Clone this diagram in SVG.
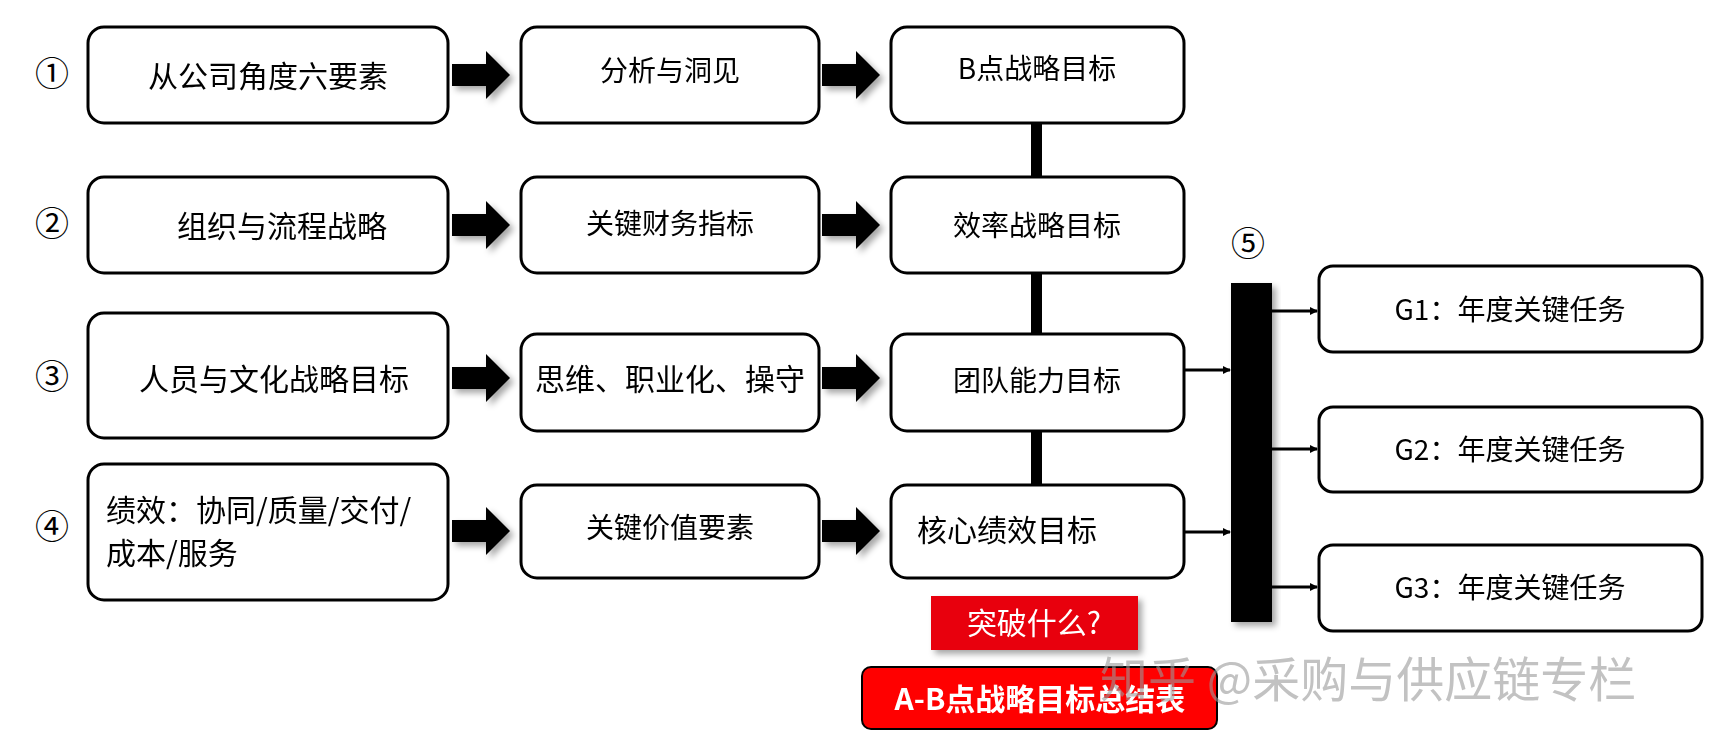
<svg xmlns="http://www.w3.org/2000/svg" width="1716" height="745" viewBox="0 0 1716 745">
<defs>
<filter id="sh" x="-10%" y="-10%" width="130%" height="140%"><feDropShadow dx="4" dy="4" stdDeviation="3" flood-color="#000" flood-opacity="0.35"/></filter>
<marker id="ah" markerWidth="8" markerHeight="8" refX="7" refY="4" orient="auto" markerUnits="userSpaceOnUse" viewBox="0 0 8 8"><path d="M0,0 L8,4 L0,8 z" fill="#000"/></marker>
<path id="big" d="M0,-11 L34,-11 L34,-24 L58,0 L34,24 L34,11 L0,11 z" fill="#000"/>
</defs>
<style>
.b{fill:#fff;stroke:#000;stroke-width:3}
.t{font-family:"Noto Sans CJK SC","Liberation Sans",sans-serif;font-size:30px;fill:#000}
.s{font-size:28px}
.n{font-family:"Noto Sans CJK SC",sans-serif;font-size:34px;fill:#000}
</style>
<rect width="1716" height="745" fill="#fff"/>
<g id="nums">
<text class="n" x="52" y="86" text-anchor="middle">①</text>
<text class="n" x="52" y="236" text-anchor="middle">②</text>
<text class="n" x="52" y="389" text-anchor="middle">③</text>
<text class="n" x="52" y="539" text-anchor="middle">④</text>
<text class="n" x="1248" y="256" text-anchor="middle">⑤</text>
</g>
<g id="connectors">
<g filter="url(#sh)">
<use href="#big" x="452" y="75"/><use href="#big" x="822" y="75"/>
<use href="#big" x="452" y="225"/><use href="#big" x="822" y="225"/>
<use href="#big" x="452" y="378"/><use href="#big" x="822" y="378"/>
<use href="#big" x="452" y="531"/><use href="#big" x="822" y="531"/>
</g>
<rect x="1031" y="123" width="11" height="362" fill="#000"/>
<g stroke="#000" stroke-width="3" marker-end="url(#ah)">
<line x1="1184" y1="370" x2="1230" y2="370"/>
<line x1="1184" y1="532" x2="1230" y2="532"/>
<line x1="1272" y1="311" x2="1317" y2="311"/>
<line x1="1272" y1="449" x2="1317" y2="449"/>
<line x1="1272" y1="587" x2="1317" y2="587"/>
</g>
</g>
<g id="bar"><rect x="1231" y="283" width="41" height="339" fill="#000" filter="url(#sh)"/></g>
<g id="r1c1"><rect class="b" x="88" y="27" width="360" height="96" rx="16"/><text class="t" x="268" y="87" text-anchor="middle">从公司角度六要素</text></g>
<g id="r1c2"><rect class="b" x="521" y="27" width="298" height="96" rx="16"/><text class="t s" x="670" y="81" text-anchor="middle">分析与洞见</text></g>
<g id="r1c3"><rect class="b" x="891" y="27" width="293" height="96" rx="16"/><text class="t s" x="1037" y="79" text-anchor="middle">B点战略目标</text></g>
<g id="r2c1"><rect class="b" x="88" y="177" width="360" height="96" rx="16"/><text class="t" x="282" y="237" text-anchor="middle">组织与流程战略</text></g>
<g id="r2c2"><rect class="b" x="521" y="177" width="298" height="96" rx="16"/><text class="t s" x="670" y="234" text-anchor="middle">关键财务指标</text></g>
<g id="r2c3"><rect class="b" x="891" y="177" width="293" height="96" rx="16"/><text class="t s" x="1037" y="236" text-anchor="middle">效率战略目标</text></g>
<g id="r3c1"><rect class="b" x="88" y="313" width="360" height="125" rx="16"/><text class="t" x="274" y="390" text-anchor="middle">人员与文化战略目标</text></g>
<g id="r3c2"><rect class="b" x="521" y="334" width="298" height="97" rx="16"/><text class="t" x="670" y="390" text-anchor="middle">思维、职业化、操守</text></g>
<g id="r3c3"><rect class="b" x="891" y="334" width="293" height="97" rx="16"/><text class="t s" x="1037" y="391" text-anchor="middle">团队能力目标</text></g>
<g id="r4c1"><rect class="b" x="88" y="464" width="360" height="136" rx="16"/><text class="t" x="106" y="521">绩效：协同/质量/交付/</text><text class="t" x="106" y="564">成本/服务</text></g>
<g id="r4c2"><rect class="b" x="521" y="485" width="298" height="93" rx="16"/><text class="t s" x="670" y="538" text-anchor="middle">关键价值要素</text></g>
<g id="r4c3"><rect class="b" x="891" y="485" width="293" height="93" rx="16"/><text class="t" x="1007" y="541" text-anchor="middle">核心绩效目标</text></g>
<g id="g1"><rect class="b" x="1319" y="266" width="383" height="86" rx="14"/><text class="t s" x="1510" y="320" text-anchor="middle">G1：年度关键任务</text></g>
<g id="g2"><rect class="b" x="1319" y="407" width="383" height="85" rx="14"/><text class="t s" x="1510" y="460" text-anchor="middle">G2：年度关键任务</text></g>
<g id="g3"><rect class="b" x="1319" y="545" width="383" height="86" rx="14"/><text class="t s" x="1510" y="598" text-anchor="middle">G3：年度关键任务</text></g>
<g id="q"><rect x="931" y="596" width="207" height="54" fill="#e8000b" filter="url(#sh)"/><text class="t" x="1034" y="634" text-anchor="middle" style="fill:#fff">突破什么?</text></g>
<g id="sum"><rect x="862" y="667" width="355" height="62" rx="9" fill="#f00" stroke="#000" stroke-width="2"/><text class="t" x="1040" y="710" text-anchor="middle" style="fill:#fff;font-weight:bold">A-B点战略目标总结表</text></g>
<text x="1100" y="697" font-family="Noto Sans CJK SC,sans-serif" font-size="48" fill="#9a9a9a" fill-opacity="0.6">知乎 @采购与供应链专栏</text>
</svg>
